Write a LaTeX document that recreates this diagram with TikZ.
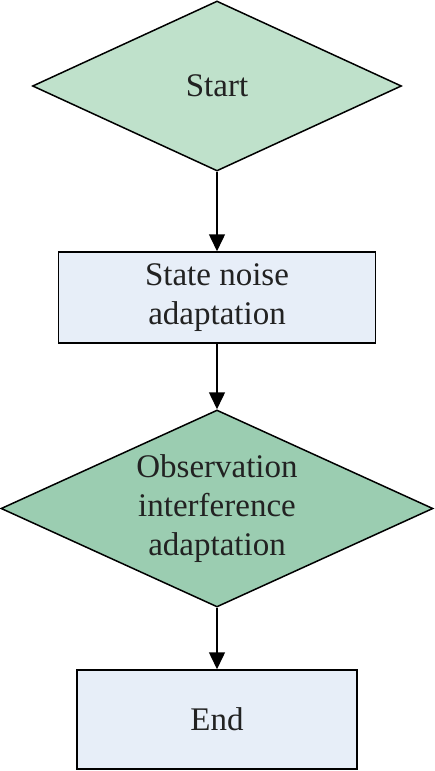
\documentclass[tikz,border=0pt]{standalone}
\usepackage{fontspec}
\setmainfont{Liberation Serif}
\usetikzlibrary{shapes.geometric,arrows.meta}
\definecolor{dgreenA}{HTML}{BFE1CB}
\definecolor{dgreenB}{HTML}{9BCDB1}
\definecolor{boxblue}{HTML}{E7EEF8}
\definecolor{txt}{HTML}{222222}
\tikzset{
  base/.style={draw=black, line width=1.5pt, text=txt, align=center, inner sep=0pt,
    font=\fontsize{33}{39}\selectfont},
  decA/.style={base, diamond, fill=dgreenA, aspect=2.2},
  decB/.style={base, diamond, fill=dgreenB, aspect=2.2},
  procbox/.style={base, rectangle, fill=boxblue},
  flow/.style={line width=1.5pt, -{Triangle[width=16pt,length=17pt]}}
}
\begin{document}
\begin{tikzpicture}[x=1pt,y=1pt]
\useasboundingbox (0,0) rectangle (435,-771);
\node[decA, minimum width=369pt, minimum height=170pt] (start) at (217,-86) {Start};
\node[procbox, minimum width=317pt, minimum height=91pt] (sna) at (217,-297.5) {State noise\\adaptation};
\node[decB, minimum width=432pt, minimum height=197pt] (oia) at (217,-508.5) {Observation\\interference\\adaptation};
\node[procbox, minimum width=280pt, minimum height=99pt] (end) at (217,-719.5) {End};
\draw[flow] (start.south) -- (sna.north);
\draw[flow] (sna.south) -- (oia.north);
\draw[flow] (oia.south) -- (end.north);
\end{tikzpicture}
\end{document}
